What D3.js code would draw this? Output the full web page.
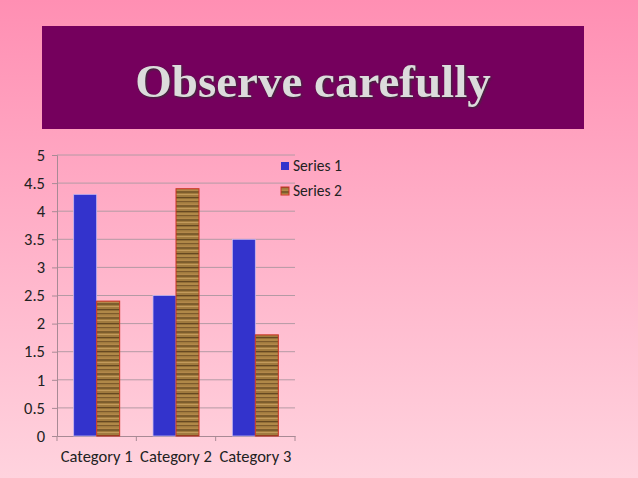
<!DOCTYPE html>
<html>
<head>
<meta charset="utf-8">
<script src="https://cdn.jsdelivr.net/npm/d3@7"></script>
<style>
  body { margin: 0; }
  svg { display: block; }
</style>
</head>
<body>
<svg id="chart"></svg>
<script>
const categories = ['Category 1', 'Category 2', 'Category 3'];
const seriesNames = ['Series 1', 'Series 2'];
const series1 = [4.3, 2.5, 3.5];
const series2 = [2.4, 4.4, 1.8];
const yTicks = [0, 0.5, 1, 1.5, 2, 2.5, 3, 3.5, 4, 4.5, 5];

const width = 638, height = 478;
const margin = { top: 155, right: 343, bottom: 42, left: 57 };
const font = 'Calibri, Carlito, Liberation Sans, sans-serif';

const svg = d3.select('#chart').attr('width', width).attr('height', height);
const defs = svg.append('defs');

// background gradient
const bg = defs.append('linearGradient').attr('id', 'bg').attr('x1', 0).attr('y1', 0).attr('x2', 0).attr('y2', 1);
bg.append('stop').attr('offset', '0%').attr('stop-color', '#ff8fb3');
bg.append('stop').attr('offset', '100%').attr('stop-color', '#ffd3de');
svg.append('rect').attr('width', width).attr('height', height).attr('fill', 'url(#bg)');

// wood pattern
const wood = defs.append('pattern').attr('id', 'wood').attr('patternUnits', 'userSpaceOnUse')
  .attr('width', 24).attr('height', 14);
wood.append('rect').attr('width', 24).attr('height', 14).attr('fill', '#a07a3e');
const stripes = [[1, '#5a3f1c', 1.2], [3.5, '#c49a56', 1], [5, '#6b4a22', 0.8], [7.5, '#b88c4c', 1.4], [9.5, '#4e3516', 1], [12, '#c8a060', 1]];
stripes.forEach(([yy, c, w]) => wood.append('rect').attr('x', 0).attr('y', yy).attr('width', 24).attr('height', w).attr('fill', c).attr('opacity', 0.85));

// title banner
svg.append('rect').attr('x', 42).attr('y', 26).attr('width', 542).attr('height', 103).attr('fill', '#75005d');
svg.append('text').attr('x', 313).attr('y', 97).attr('text-anchor', 'middle')
  .attr('font-family', 'Liberation Serif, serif').attr('font-weight', 'bold').attr('font-size', 47)
  .attr('fill', '#dcdcdc').style('filter', 'drop-shadow(1px 1px 1px #333)').text('Observe carefully');

const x = d3.scaleBand().domain(categories).range([margin.left, width - margin.right]);
const y = d3.scaleLinear().domain([0, 5]).range([height - margin.bottom, margin.top]);

// gridlines
svg.append('g').selectAll('line').data(yTicks.slice(1)).join('line')
  .attr('x1', margin.left).attr('x2', width - margin.right)
  .attr('y1', d => y(d)).attr('y2', d => y(d))
  .attr('stroke', '#b49aa4').attr('stroke-width', 1);

// axes
const yAxis = svg.append('g').attr('transform', `translate(${margin.left},0)`)
  .call(d3.axisLeft(y).tickValues(yTicks).tickSize(5).tickFormat(d3.format('')));
const xAxis = svg.append('g').attr('transform', `translate(0,${y(0)})`)
  .call(d3.axisBottom(x).tickSize(0).tickPadding(14));
xAxis.selectAll('.tick').append('line')
  .attr('x1', -x.bandwidth() / 2).attr('x2', -x.bandwidth() / 2).attr('y2', 5);
xAxis.append('line').attr('x1', width - margin.right).attr('x2', width - margin.right).attr('y2', 5);
[yAxis, xAxis].forEach(a => {
  a.selectAll('path.domain, line').attr('stroke', '#a88a95');
  a.selectAll('text').attr('font-family', font).attr('font-size', 16.5).attr('fill', '#222');
});
yAxis.selectAll('text').attr('dx', -4);

const barW = 23;
const off = x.bandwidth() / 2;
svg.append('g').selectAll('rect').data(series1).join('rect')
  .attr('x', (d, i) => x(categories[i]) + off - barW)
  .attr('y', d => y(d)).attr('width', barW).attr('height', d => y(0) - y(d))
  .attr('fill', '#3333cc').attr('stroke', '#c8b8f0').attr('stroke-width', 0.8);
svg.append('g').selectAll('rect').data(series2).join('rect')
  .attr('x', (d, i) => x(categories[i]) + off)
  .attr('y', d => y(d)).attr('width', barW).attr('height', d => y(0) - y(d))
  .attr('fill', 'url(#wood)').attr('stroke', '#cc3322').attr('stroke-width', 1);

// legend
const legend = svg.append('g');
const fills = ['#3333cc', 'url(#wood)'];
seriesNames.forEach((s, i) => {
  const ly = 166 + i * 25;
  legend.append('rect').attr('x', 281).attr('y', ly - 4).attr('width', 8).attr('height', 8)
    .attr('fill', fills[i]).attr('stroke', i ? '#cc3322' : 'none');
  legend.append('text').attr('x', 293).attr('y', ly + 5).text(s)
    .attr('font-family', font).attr('font-size', 15.5).attr('fill', '#222');
});
</script>
</body>
</html>
